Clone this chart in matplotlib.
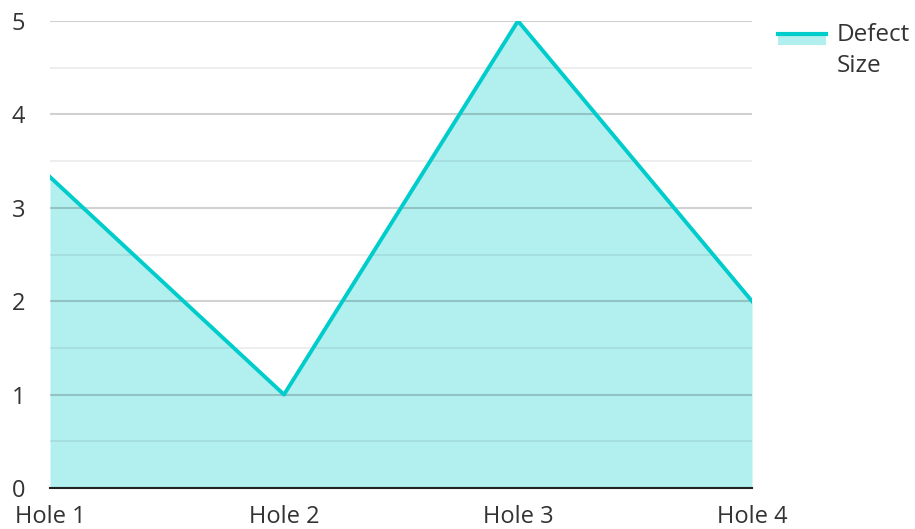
import matplotlib
matplotlib.use("Agg")
import matplotlib.pyplot as plt
from matplotlib.patches import Rectangle
from matplotlib.lines import Line2D

categories = ["Hole 1", "Hole 2", "Hole 3", "Hole 4"]
values = [3.33, 1, 5, 2]
series_name = "Defect\nSize"

line_color = "#00CCCC"
fill_color = "#B2EFEF"
text_color = "#333333"

plt.rcParams['font.family'] = ['Open Sans', 'DejaVu Sans']

fig = plt.figure(figsize=(9.15, 5.29), dpi=100)
ax = fig.add_axes([50/915, 1-488/529, 702/915, 467/529])

x = list(range(len(categories)))
ax.fill_between(x, values, 0, color=fill_color, linewidth=0, zorder=1)
ax.plot(x, values, color=line_color, linewidth=2.8, zorder=3)

ax.set_xlim(0, len(categories)-1)
ax.set_ylim(0, 5)
ax.set_yticks([0, 1, 2, 3, 4, 5])
ax.set_yticks([0.5, 1.5, 2.5, 3.5, 4.5], minor=True)
ax.set_xticks(x)
ax.set_xticklabels(categories)
ax.grid(True, which='major', axis='y', color='black', alpha=0.18, linewidth=1.5, zorder=2)
ax.grid(True, which='minor', axis='y', color='black', alpha=0.08, linewidth=1.2, zorder=2)
ax.set_axisbelow(False)
for s in ['left', 'right', 'top']:
    ax.spines[s].set_visible(False)
ax.spines['bottom'].set_color('#222222')
ax.spines['bottom'].set_linewidth(1.5)
ax.spines['bottom'].set_zorder(4)
ax.tick_params(axis='both', which='both', length=0, labelsize=17, colors=text_color)
ax.tick_params(axis='y', pad=18)
ax.tick_params(axis='x', pad=12)

# legend (drawn in figure pixel coordinates)
W, H = 915, 529
fig.patches.append(Rectangle((778/W, 1-45/H), 48/W, 11/H, facecolor=fill_color, edgecolor='none',
                             transform=fig.transFigure, figure=fig))
fig.lines.append(Line2D([778/W, 826/W], [1-34/H, 1-34/H], color=line_color, linewidth=3,
                        transform=fig.transFigure, figure=fig))
fig.text(837/W, 1-23/H, series_name, fontsize=17.5, color=text_color, va='top', ha='left',
         linespacing=1.38)

fig.savefig("out.png", dpi=100)
